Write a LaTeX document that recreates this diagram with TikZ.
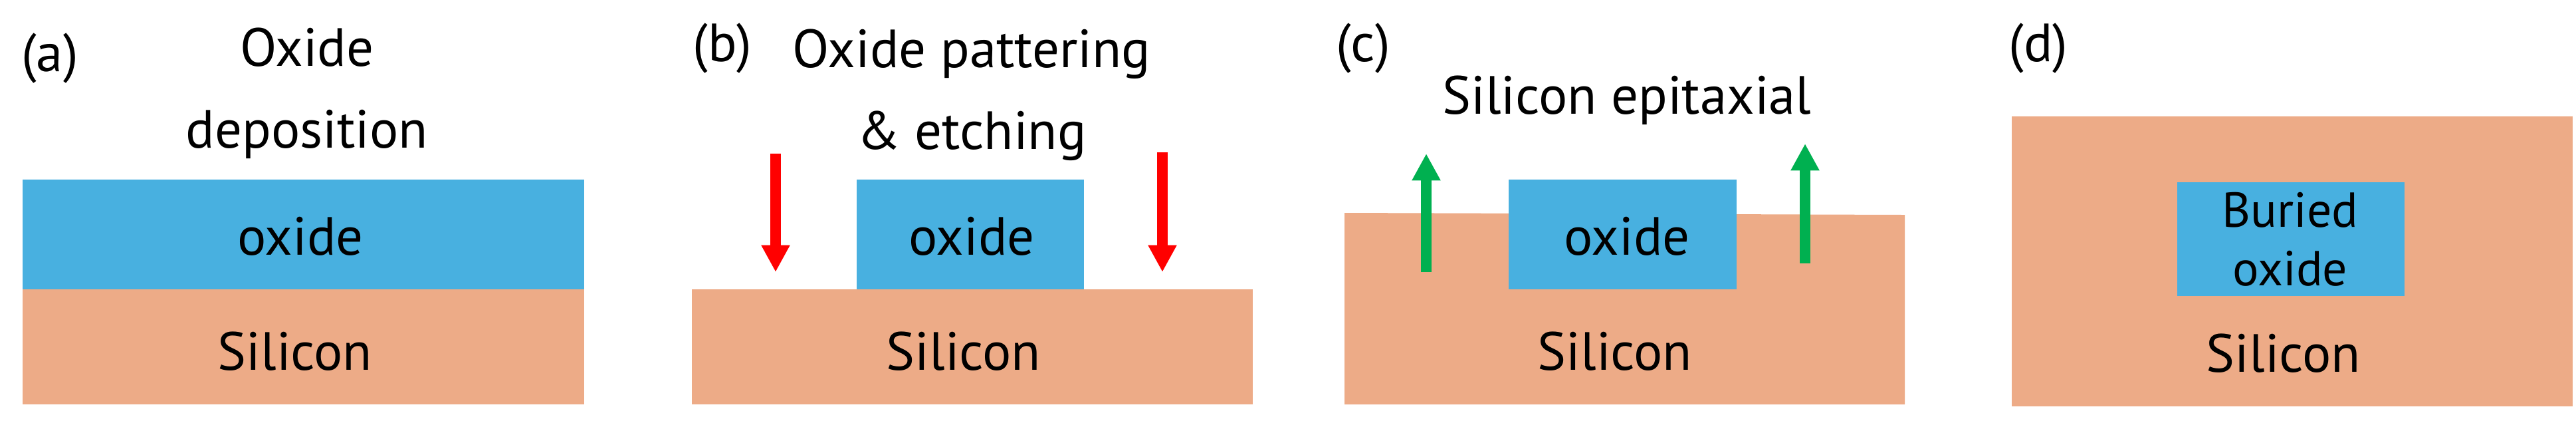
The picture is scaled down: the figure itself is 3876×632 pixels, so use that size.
\documentclass[tikz,border=0pt]{standalone}
\usepackage{fontspec}
\setmainfont{PT Sans}
\usetikzlibrary{arrows.meta}
\definecolor{ox}{HTML}{48B0E0}
\definecolor{si}{HTML}{EDAB87}
\definecolor{gr}{HTML}{00B050}
\begin{document}
\begin{tikzpicture}[x=0.01cm,y=-0.01cm,
  txt/.style={font=\fontsize{23}{28}\selectfont, inner sep=0pt, align=center},
  stxt/.style={font=\fontsize{21}{25}\selectfont, inner sep=0pt, align=center},
  arr/.style={line width=4.3pt,-{Triangle[length=11.5pt,width=11.5pt]}}]
\useasboundingbox (0,0) rectangle (3876,632);
% (a)
\fill[si] (34,435) rectangle (879,608);
\fill[ox] (34,270) rectangle (879,435);
\node[txt] (la) at (75,88) {(a)};
\node[txt] (ta) at (462,140) {Oxide\\[0.3em]deposition};
\node[txt] (oa) at (452,355) {oxide};
\node[txt] (sa) at (444,528) {Silicon};
% (b)
\fill[si] (1041,435) rectangle (1885,608);
\fill[ox] (1289,270) rectangle (1631,435);
\node[txt] (lb) at (1087,73) {(b)};
\node[txt] (tb) at (1462,143) {Oxide pattering\\[0.3em]\& etching};
\node[txt] (ob) at (1462,355) {oxide};
\node[txt] (sb) at (1450,528) {Silicon};
\coordinate (r1s) at (1167,231); \coordinate (r1e) at (1167,409);
\coordinate (r2s) at (1749,229); \coordinate (r2e) at (1749,409);
\draw[arr,red] (r1s) -- (r1e);
\draw[arr,red] (r2s) -- (r2e);
% (c)
\fill[si] (2023,320) -- (2866,323) -- (2866,608) -- (2023,608) -- cycle;
\fill[ox] (2270,270) rectangle (2613,435);
\node[txt] (lc) at (2051,73) {(c)};
\node[txt] (tc) at (2448,151) {Silicon epitaxial};
\node[txt] (oc) at (2448,355) {oxide};
\node[txt] (sc) at (2430,528) {Silicon};
\coordinate (g1s) at (2146,409); \coordinate (g1e) at (2146,231);
\coordinate (g2s) at (2716,396); \coordinate (g2e) at (2716,216);
\draw[arr,gr] (g1s) -- (g1e);
\draw[arr,gr] (g2s) -- (g2e);
% (d)
\fill[si] (3027,175) rectangle (3871,611);
\fill[ox] (3276,274) rectangle (3618,445);
\node[txt] (ld) at (3067,73) {(d)};
\node[stxt] (od) at (3446,360) {Buried\\oxide};
\node[txt] (sd) at (3436,531) {Silicon};
\end{tikzpicture}
\end{document}
